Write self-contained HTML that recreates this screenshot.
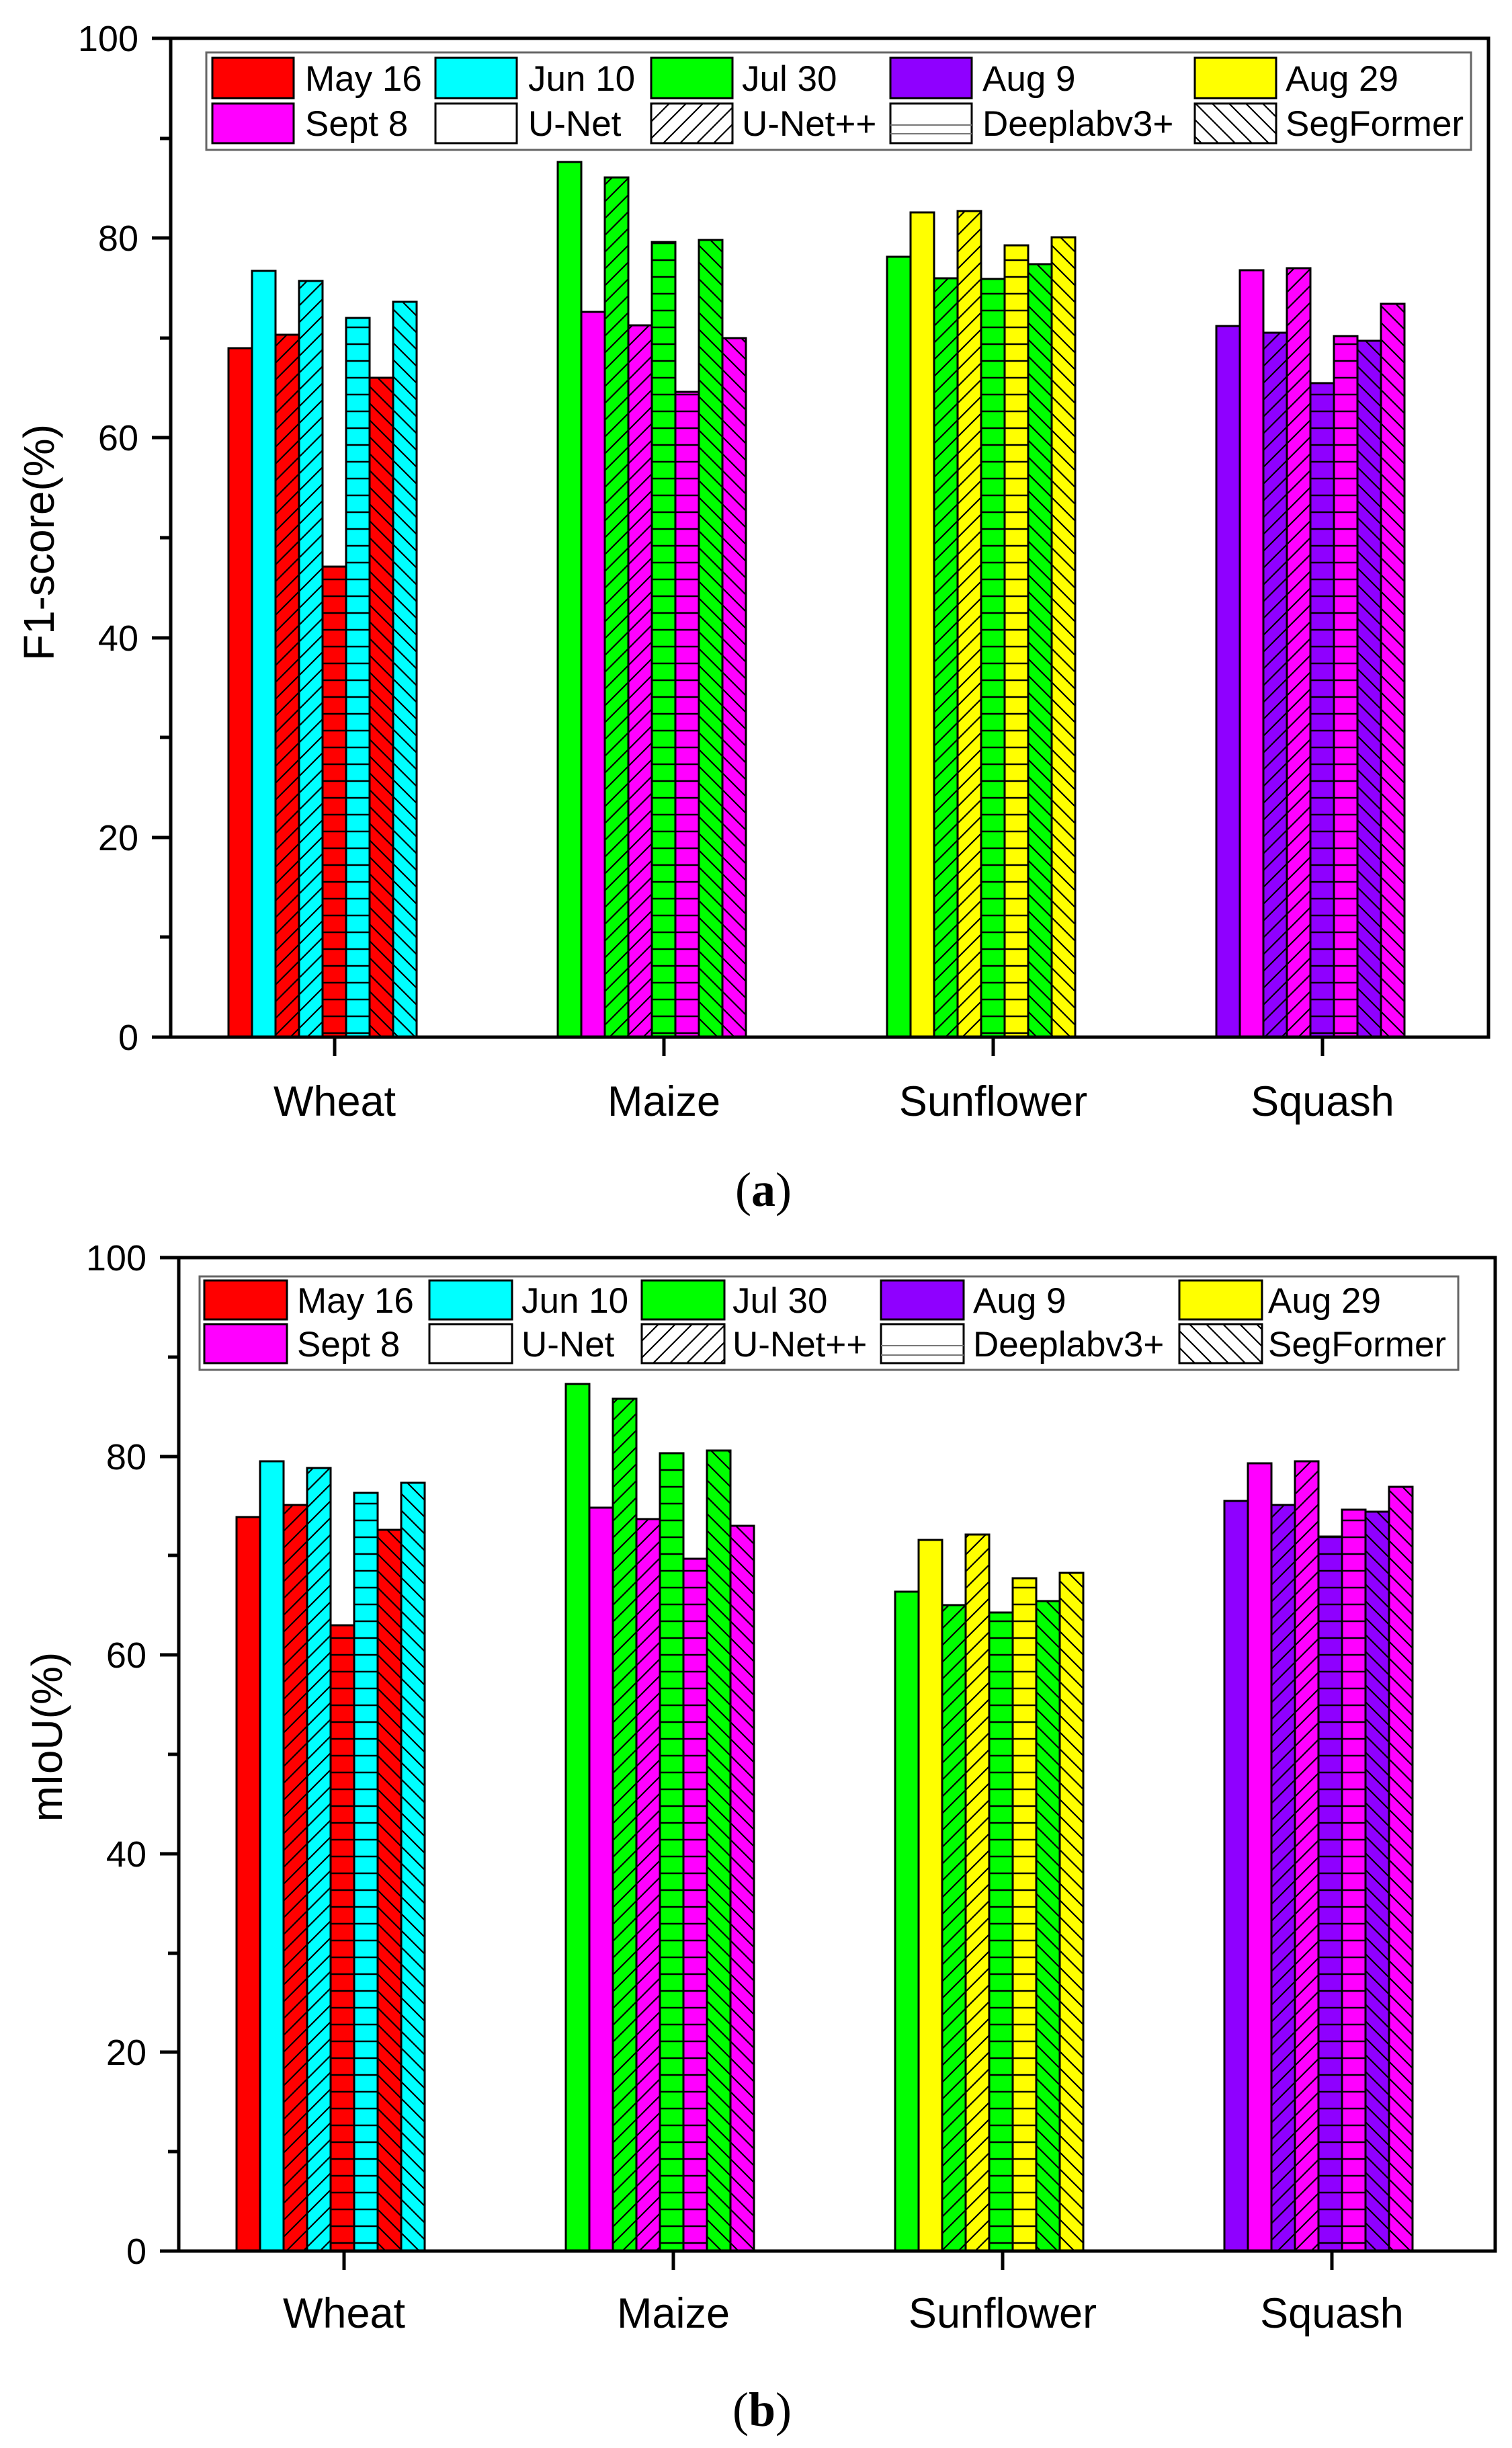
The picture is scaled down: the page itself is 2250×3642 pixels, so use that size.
<!DOCTYPE html>
<html><head><meta charset="utf-8"><style>
html,body{margin:0;padding:0;background:#fff;}
svg{display:block;}
text{font-family:"Liberation Sans",Arial,sans-serif;fill:#000;}
</style></head><body>
<svg width="2250" height="3642" viewBox="0 0 2250 3642" xmlns="http://www.w3.org/2000/svg">
<defs>
<pattern id="fw" patternUnits="userSpaceOnUse" width="25" height="25"><path d="M-2,27 L27,-2 M-5,5 L5,-5 M20,30 L30,20" stroke="#000" stroke-width="2.2"/></pattern>
<pattern id="hz" patternUnits="userSpaceOnUse" width="25" height="25"><path d="M0,12 H25" stroke="#000" stroke-width="2.5"/></pattern>
<pattern id="bk" patternUnits="userSpaceOnUse" width="25" height="25"><path d="M-2,-2 L27,27 M20,-5 L30,5 M-5,20 L5,30" stroke="#000" stroke-width="2.2"/></pattern>
</defs>
<rect width="2250" height="3642" fill="#fff"/>

<!-- ================= CHART A ================= -->
<g stroke="#000" stroke-width="3">
<!-- Wheat -->
<rect x="340" y="518" width="35" height="1025" fill="#f00"/>
<rect x="375" y="403" width="35" height="1140" fill="#0ff"/>
<rect x="410" y="498" width="35" height="1045" fill="#f00"/><rect x="410" y="498" width="35" height="1045" fill="url(#fw)"/>
<rect x="445" y="418" width="35" height="1125" fill="#0ff"/><rect x="445" y="418" width="35" height="1125" fill="url(#fw)"/>
<rect x="480" y="843" width="35" height="700" fill="#f00"/><rect x="480" y="843" width="35" height="700" fill="url(#hz)"/>
<rect x="515" y="473" width="35" height="1070" fill="#0ff"/><rect x="515" y="473" width="35" height="1070" fill="url(#hz)"/>
<rect x="550" y="562" width="35" height="981" fill="#f00"/><rect x="550" y="562" width="35" height="981" fill="url(#bk)"/>
<rect x="585" y="449" width="35" height="1094" fill="#0ff"/><rect x="585" y="449" width="35" height="1094" fill="url(#bk)"/>
<!-- Maize -->
<rect x="830" y="241" width="35" height="1302" fill="#0f0"/>
<rect x="865" y="464" width="35" height="1079" fill="#f0f"/>
<rect x="900" y="264" width="35" height="1279" fill="#0f0"/><rect x="900" y="264" width="35" height="1279" fill="url(#fw)"/>
<rect x="935" y="484" width="35" height="1059" fill="#f0f"/><rect x="935" y="484" width="35" height="1059" fill="url(#fw)"/>
<rect x="970" y="360" width="35" height="1183" fill="#0f0"/><rect x="970" y="360" width="35" height="1183" fill="url(#hz)"/>
<rect x="1005" y="583" width="35" height="960" fill="#f0f"/><rect x="1005" y="583" width="35" height="960" fill="url(#hz)"/>
<rect x="1040" y="357" width="35" height="1186" fill="#0f0"/><rect x="1040" y="357" width="35" height="1186" fill="url(#bk)"/>
<rect x="1075" y="503" width="35" height="1040" fill="#f0f"/><rect x="1075" y="503" width="35" height="1040" fill="url(#bk)"/>
<!-- Sunflower -->
<rect x="1320" y="382" width="35" height="1161" fill="#0f0"/>
<rect x="1355" y="316" width="35" height="1227" fill="#ff0"/>
<rect x="1390" y="414" width="35" height="1129" fill="#0f0"/><rect x="1390" y="414" width="35" height="1129" fill="url(#fw)"/>
<rect x="1425" y="314" width="35" height="1229" fill="#ff0"/><rect x="1425" y="314" width="35" height="1229" fill="url(#fw)"/>
<rect x="1460" y="415" width="35" height="1128" fill="#0f0"/><rect x="1460" y="415" width="35" height="1128" fill="url(#hz)"/>
<rect x="1495" y="365" width="35" height="1178" fill="#ff0"/><rect x="1495" y="365" width="35" height="1178" fill="url(#hz)"/>
<rect x="1530" y="393" width="35" height="1150" fill="#0f0"/><rect x="1530" y="393" width="35" height="1150" fill="url(#bk)"/>
<rect x="1565" y="353" width="35" height="1190" fill="#ff0"/><rect x="1565" y="353" width="35" height="1190" fill="url(#bk)"/>
<!-- Squash -->
<rect x="1810" y="485" width="35" height="1058" fill="#8f00ff"/>
<rect x="1845" y="402" width="35" height="1141" fill="#f0f"/>
<rect x="1880" y="495" width="35" height="1048" fill="#8f00ff"/><rect x="1880" y="495" width="35" height="1048" fill="url(#fw)"/>
<rect x="1915" y="399" width="35" height="1144" fill="#f0f"/><rect x="1915" y="399" width="35" height="1144" fill="url(#fw)"/>
<rect x="1950" y="570" width="35" height="973" fill="#8f00ff"/><rect x="1950" y="570" width="35" height="973" fill="url(#hz)"/>
<rect x="1985" y="500" width="35" height="1043" fill="#f0f"/><rect x="1985" y="500" width="35" height="1043" fill="url(#hz)"/>
<rect x="2020" y="507" width="35" height="1036" fill="#8f00ff"/><rect x="2020" y="507" width="35" height="1036" fill="url(#bk)"/>
<rect x="2055" y="452" width="35" height="1091" fill="#f0f"/><rect x="2055" y="452" width="35" height="1091" fill="url(#bk)"/>
</g>
<!-- frame A -->
<rect x="254" y="57" width="1961" height="1486" fill="none" stroke="#000" stroke-width="5"/>
<g stroke="#000" stroke-width="5">
<path d="M226,1543H254 M226,1246H254 M226,949H254 M226,651H254 M226,354H254 M226,57H254"/>
<path d="M238,1394H254 M238,1097H254 M238,800H254 M238,503H254 M238,206H254"/>
<path d="M498,1543V1571 M988,1543V1571 M1478,1543V1571 M1968,1543V1571"/>
</g>
<g font-size="54" text-anchor="end">
<text x="206" y="1562">0</text><text x="206" y="1265">20</text><text x="206" y="968">40</text>
<text x="206" y="670">60</text><text x="206" y="373">80</text><text x="206" y="76">100</text>
</g>
<g font-size="63" text-anchor="middle">
<text x="498" y="1660">Wheat</text><text x="988" y="1660">Maize</text>
<text x="1478" y="1660">Sunflower</text><text x="1968" y="1660">Squash</text>
</g>
<text x="0" y="0" font-size="64" text-anchor="middle" transform="translate(80,807) rotate(-90)">F1-score(%)</text>
<text x="1136" y="1794" font-size="72" text-anchor="middle" style="font-family:'Liberation Serif',serif">(<tspan font-weight="bold">a</tspan>)</text>

<!-- legend A -->
<rect x="307" y="78" width="1882" height="145" fill="#fff" stroke="#666" stroke-width="3"/>
<g stroke="#000" stroke-width="3">
<rect x="316" y="86" width="121" height="60" fill="#f00"/>
<rect x="648" y="86" width="121" height="60" fill="#0ff"/>
<rect x="969" y="86" width="121" height="60" fill="#0f0"/>
<rect x="1325" y="86" width="121" height="60" fill="#8f00ff"/>
<rect x="1778" y="86" width="121" height="60" fill="#ff0"/>
<rect x="316" y="154" width="121" height="59" fill="#f0f"/>
<rect x="648" y="154" width="121" height="59" fill="#fff"/>
<rect x="969" y="154" width="121" height="59" fill="url(#fw)"/>
<rect x="1325" y="154" width="121" height="59" fill="#fff"/>
<rect x="1778" y="154" width="121" height="59" fill="url(#bk)"/>
</g>
<path d="M1325,186H1446 M1325,199H1446" stroke="#777" stroke-width="2"/>
<g font-size="53">
<text x="454" y="135">May 16</text><text x="786" y="135">Jun 10</text><text x="1104" y="135">Jul 30</text>
<text x="1462" y="135">Aug 9</text><text x="1913" y="135">Aug 29</text>
<text x="454" y="202">Sept 8</text><text x="786" y="202">U-Net</text><text x="1104" y="202">U-Net++</text>
<text x="1462" y="202">Deeplabv3+</text><text x="1913" y="202">SegFormer</text>
</g>

<!-- ================= CHART B ================= -->
<g stroke="#000" stroke-width="3">
<!-- Wheat -->
<rect x="352" y="2257" width="35" height="1092" fill="#f00"/>
<rect x="387" y="2174" width="35" height="1175" fill="#0ff"/>
<rect x="422" y="2239" width="35" height="1110" fill="#f00"/><rect x="422" y="2239" width="35" height="1110" fill="url(#fw)"/>
<rect x="457" y="2184" width="35" height="1165" fill="#0ff"/><rect x="457" y="2184" width="35" height="1165" fill="url(#fw)"/>
<rect x="492" y="2418" width="35" height="931" fill="#f00"/><rect x="492" y="2418" width="35" height="931" fill="url(#hz)"/>
<rect x="527" y="2221" width="35" height="1128" fill="#0ff"/><rect x="527" y="2221" width="35" height="1128" fill="url(#hz)"/>
<rect x="562" y="2276" width="35" height="1073" fill="#f00"/><rect x="562" y="2276" width="35" height="1073" fill="url(#bk)"/>
<rect x="597" y="2206" width="35" height="1143" fill="#0ff"/><rect x="597" y="2206" width="35" height="1143" fill="url(#bk)"/>
<!-- Maize -->
<rect x="842" y="2059" width="35" height="1290" fill="#0f0"/>
<rect x="877" y="2243" width="35" height="1106" fill="#f0f"/>
<rect x="912" y="2081" width="35" height="1268" fill="#0f0"/><rect x="912" y="2081" width="35" height="1268" fill="url(#fw)"/>
<rect x="947" y="2260" width="35" height="1089" fill="#f0f"/><rect x="947" y="2260" width="35" height="1089" fill="url(#fw)"/>
<rect x="982" y="2162" width="35" height="1187" fill="#0f0"/><rect x="982" y="2162" width="35" height="1187" fill="url(#hz)"/>
<rect x="1017" y="2319" width="35" height="1030" fill="#f0f"/><rect x="1017" y="2319" width="35" height="1030" fill="url(#hz)"/>
<rect x="1052" y="2158" width="35" height="1191" fill="#0f0"/><rect x="1052" y="2158" width="35" height="1191" fill="url(#bk)"/>
<rect x="1087" y="2270" width="35" height="1079" fill="#f0f"/><rect x="1087" y="2270" width="35" height="1079" fill="url(#bk)"/>
<!-- Sunflower -->
<rect x="1332" y="2368" width="35" height="981" fill="#0f0"/>
<rect x="1367" y="2291" width="35" height="1058" fill="#ff0"/>
<rect x="1402" y="2388" width="35" height="961" fill="#0f0"/><rect x="1402" y="2388" width="35" height="961" fill="url(#fw)"/>
<rect x="1437" y="2283" width="35" height="1066" fill="#ff0"/><rect x="1437" y="2283" width="35" height="1066" fill="url(#fw)"/>
<rect x="1472" y="2399" width="35" height="950" fill="#0f0"/><rect x="1472" y="2399" width="35" height="950" fill="url(#hz)"/>
<rect x="1507" y="2348" width="35" height="1001" fill="#ff0"/><rect x="1507" y="2348" width="35" height="1001" fill="url(#hz)"/>
<rect x="1542" y="2382" width="35" height="967" fill="#0f0"/><rect x="1542" y="2382" width="35" height="967" fill="url(#bk)"/>
<rect x="1577" y="2340" width="35" height="1009" fill="#ff0"/><rect x="1577" y="2340" width="35" height="1009" fill="url(#bk)"/>
<!-- Squash -->
<rect x="1822" y="2233" width="35" height="1116" fill="#8f00ff"/>
<rect x="1857" y="2177" width="35" height="1172" fill="#f0f"/>
<rect x="1892" y="2239" width="35" height="1110" fill="#8f00ff"/><rect x="1892" y="2239" width="35" height="1110" fill="url(#fw)"/>
<rect x="1927" y="2174" width="35" height="1175" fill="#f0f"/><rect x="1927" y="2174" width="35" height="1175" fill="url(#fw)"/>
<rect x="1962" y="2286" width="35" height="1063" fill="#8f00ff"/><rect x="1962" y="2286" width="35" height="1063" fill="url(#hz)"/>
<rect x="1997" y="2246" width="35" height="1103" fill="#f0f"/><rect x="1997" y="2246" width="35" height="1103" fill="url(#hz)"/>
<rect x="2032" y="2249" width="35" height="1100" fill="#8f00ff"/><rect x="2032" y="2249" width="35" height="1100" fill="url(#bk)"/>
<rect x="2067" y="2212" width="35" height="1137" fill="#f0f"/><rect x="2067" y="2212" width="35" height="1137" fill="url(#bk)"/>
</g>
<rect x="266" y="1871" width="1959" height="1478" fill="none" stroke="#000" stroke-width="5"/>
<g stroke="#000" stroke-width="5">
<path d="M238,3349H266 M238,3053H266 M238,2758H266 M238,2462H266 M238,2167H266 M238,1871H266"/>
<path d="M250,3201H266 M250,2906H266 M250,2610H266 M250,2314H266 M250,2019H266"/>
<path d="M512,3349V3377 M1002,3349V3377 M1492,3349V3377 M1982,3349V3377"/>
</g>
<g font-size="54" text-anchor="end">
<text x="218" y="3368">0</text><text x="218" y="3072">20</text><text x="218" y="2777">40</text>
<text x="218" y="2481">60</text><text x="218" y="2186">80</text><text x="218" y="1890">100</text>
</g>
<g font-size="63" text-anchor="middle">
<text x="512" y="3463">Wheat</text><text x="1002" y="3463">Maize</text>
<text x="1492" y="3463">Sunflower</text><text x="1982" y="3463">Squash</text>
</g>
<text x="0" y="0" font-size="64" text-anchor="middle" transform="translate(92,2584) rotate(-90)">mIoU(%)</text>
<text x="1134" y="3609" font-size="72" text-anchor="middle" style="font-family:'Liberation Serif',serif">(<tspan font-weight="bold">b</tspan>)</text>

<!-- legend B -->
<rect x="297" y="1899" width="1873" height="139" fill="#fff" stroke="#666" stroke-width="3"/>
<g stroke="#000" stroke-width="3">
<rect x="304" y="1905" width="123" height="58" fill="#f00"/>
<rect x="639" y="1905" width="123" height="58" fill="#0ff"/>
<rect x="955" y="1905" width="123" height="58" fill="#0f0"/>
<rect x="1311" y="1905" width="123" height="58" fill="#8f00ff"/>
<rect x="1755" y="1905" width="123" height="58" fill="#ff0"/>
<rect x="304" y="1970" width="123" height="58" fill="#f0f"/>
<rect x="639" y="1970" width="123" height="58" fill="#fff"/>
<rect x="955" y="1970" width="123" height="58" fill="url(#fw)"/>
<rect x="1311" y="1970" width="123" height="58" fill="#fff"/>
<rect x="1755" y="1970" width="123" height="58" fill="url(#bk)"/>
</g>
<path d="M1311,2002H1434 M1311,2016H1434" stroke="#777" stroke-width="2"/>
<g font-size="53">
<text x="442" y="1953">May 16</text><text x="776" y="1953">Jun 10</text><text x="1090" y="1953">Jul 30</text>
<text x="1448" y="1953">Aug 9</text><text x="1887" y="1953">Aug 29</text>
<text x="442" y="2018">Sept 8</text><text x="776" y="2018">U-Net</text><text x="1090" y="2018">U-Net++</text>
<text x="1448" y="2018">Deeplabv3+</text><text x="1887" y="2018">SegFormer</text>
</g>
</svg>
</body></html>
